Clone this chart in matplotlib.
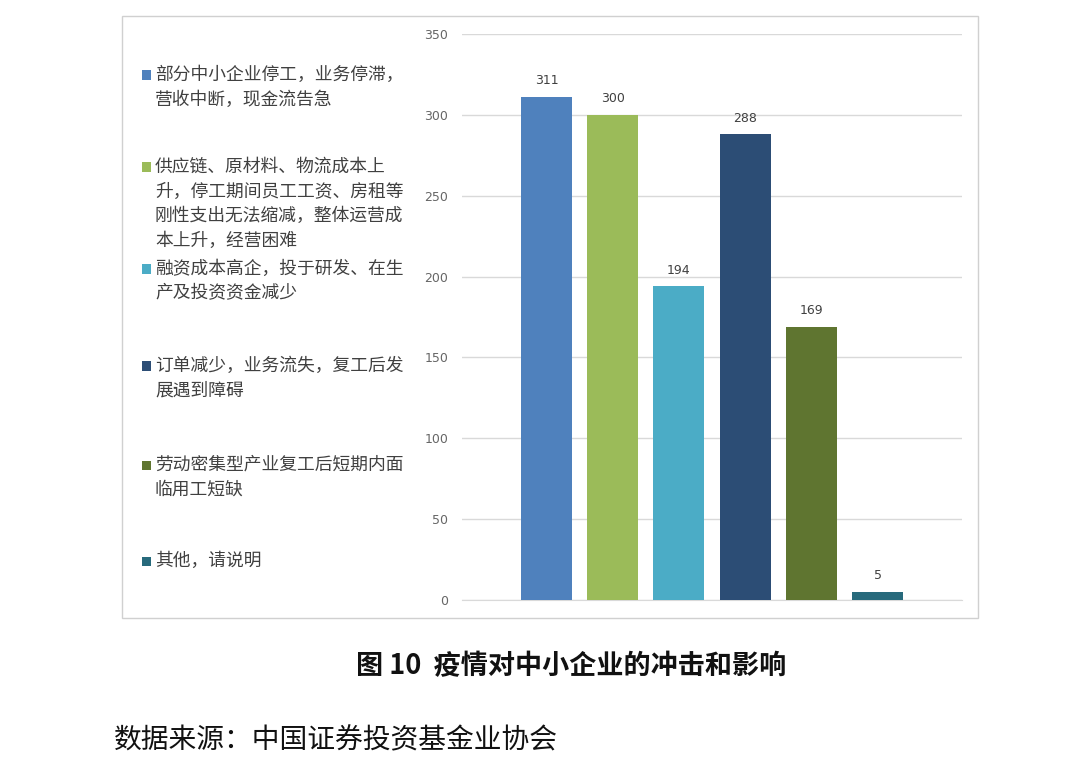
import matplotlib
matplotlib.use("Agg")
import matplotlib.pyplot as plt
from matplotlib.patches import Rectangle

plt.rcParams['font.family'] = ['Noto Sans CJK SC', 'DejaVu Sans']

series_labels = [
    ["部分中小企业停工，业务停滞，", "营收中断，现金流告急"],
    ["供应链、原材料、物流成本上", "升，停工期间员工工资、房租等", "刚性支出无法缩减，整体运营成", "本上升，经营困难"],
    ["融资成本高企，投于研发、在生", "产及投资资金减少"],
    ["订单减少，业务流失，复工后发", "展遇到障碍"],
    ["劳动密集型产业复工后短期内面", "临用工短缺"],
    ["其他，请说明"],
]
values = [311, 300, 194, 288, 169, 5]
colors = ["#4F81BD", "#9BBB59", "#4BACC6", "#2C4D75", "#5F7530", "#276A7C"]
yticks = [0, 50, 100, 150, 200, 250, 300, 350]
title = "图 10  疫情对中小企业的冲击和影响"
source = "数据来源：中国证券投资基金业协会"

W, H = 1080, 761
fig = plt.figure(figsize=(W / 100, H / 100), dpi=100)

def fx(px):
    return px / W

def fy(py):
    return 1 - py / H

# chart frame
fig.patches.append(Rectangle((fx(122), fy(618)), fx(978) - fx(122), fy(16) - fy(618),
                             transform=fig.transFigure, fill=False,
                             edgecolor="#D0D0D0", linewidth=1.0))

ax = fig.add_axes([fx(462), fy(600), fx(962) - fx(462), fy(34) - fy(600)])
x = list(range(len(values)))
bars = ax.bar(x, values, width=0.77, color=colors, zorder=3)
ax.set_xlim(-1.276, 6.276)
ax.set_ylim(0, 350)
ax.set_yticks(yticks)
ax.set_yticklabels([str(t) for t in yticks], fontsize=9, color="#666666",
                   family=['DejaVu Sans'])
ax.set_xticks([])
ax.tick_params(axis='y', length=0, pad=10)
ax.grid(axis='y', color="#D9D9D9", linewidth=1.0, zorder=0)
for s in ['top', 'right', 'left']:
    ax.spines[s].set_visible(False)
ax.spines['bottom'].set_color("#D9D9D9")
ax.set_facecolor('none')

for xi, v in zip(x, values):
    ax.annotate(str(v), (xi, v), xytext=(0, 7), textcoords='offset points',
                ha='center', va='bottom', fontsize=9, color="#404040",
                family=['DejaVu Sans'])

# legend (manual, matching layout)
first_line_y = [75, 167, 269, 366, 465, 561]
line_gap = 24.5
for lines, col, y0 in zip(series_labels, colors, first_line_y):
    fig.patches.append(Rectangle((fx(142), fy(y0 + 4.5)), fx(9), 9 / H,
                                 transform=fig.transFigure, facecolor=col,
                                 edgecolor='none'))
    for j, ln in enumerate(lines):
        fig.text(fx(155), fy(y0 + j * line_gap), ln, fontsize=12.8,
                 color="#404040", ha='left', va='center')

fig.text(fx(571), fy(666), title, fontsize=19.5, fontweight='bold',
         color="#111111", ha='center', va='center')
fig.text(fx(114), fy(740), source, fontsize=20, color="#111111",
         ha='left', va='center')

fig.savefig("out.png", dpi=100)
